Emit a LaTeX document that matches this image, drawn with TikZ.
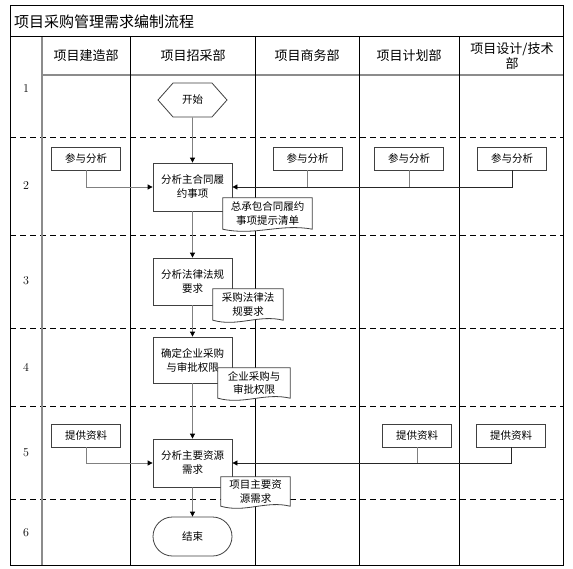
\documentclass[tikz,border=0pt]{standalone}
\usepackage{fontspec}
\newfontfamily\cjk{Noto Sans CJK SC}
\usetikzlibrary{shapes.misc,shapes.symbols,arrows.meta,calc}
\pgfdeclarelayer{lanes}
\pgfdeclarelayer{docfill}
\pgfdeclarelayer{doctop}
\pgfsetlayers{lanes,main,docfill,doctop}
\tikzset{
  frameline/.style={draw=black, line width=0.8pt},
  grayline/.style={draw=black!45, line width=1.8pt},
  rowsep/.style={draw=black, line width=0.7pt, dash pattern=on 6pt off 4pt},
  hdr/.style={font=\cjk\fontsize{13}{15}\selectfont, align=center, inner sep=0pt},
  rownum/.style={font=\fontsize{12}{14}\selectfont, inner sep=0pt},
  procbox/.style={draw=black!75, line width=0.8pt, fill=white, minimum width=79pt, minimum height=48pt, inner sep=0pt, align=center, font=\cjk\fontsize{10.5}{14}\selectfont},
  sidebox/.style={draw=black!75, line width=0.8pt, fill=white, minimum width=69pt, minimum height=23pt, inner sep=0pt, font=\cjk\fontsize{10.5}{13}\selectfont},
  doctext/.style={inner sep=0pt, align=center, font=\cjk\fontsize{10.5}{13.5}\selectfont},
  docline/.style={draw=black!75, line width=0.8pt, fill=white},
  conn/.style={draw=black!50, line width=0.8pt, -{Triangle[length=5pt,width=5pt,black]}},
  connk/.style={draw=black!85, line width=0.8pt, -{Triangle[length=5pt,width=5pt,black]}},
  plain/.style={draw=black!50, line width=0.8pt},
  plaink/.style={draw=black!85, line width=0.8pt},
}
\newcommand\docpath[1]{%
  \draw[docline] (#1.north west) -- (#1.north east) -- (#1.south east)
    .. controls ($(#1.south west)!0.65!(#1.south east)+(0,-6)$) and ($(#1.south west)!0.35!(#1.south east)+(0,7)$) .. (#1.south west) -- cycle;}
\begin{document}
\begin{tikzpicture}[x=1pt,y=-1pt]
\useasboundingbox (0,0) rectangle (573,568);
\begin{pgfonlayer}{lanes}
\fill[white] (0,0) rectangle (573,568);
% row separators
\foreach \yy in {137,235,328,406,499}
  \draw[rowsep] (10,\yy) -- (563,\yy);
% header bottom and first column line
\draw[grayline] (42,75) -- (563,75);
\draw[grayline] (42,36) -- (42,565);
% lane lines
\foreach \xx in {130,255,359,459}
  \draw[frameline] (\xx,36) -- (\xx,565);
% frame
\draw[frameline] (10,5) rectangle (563,565);
\draw[frameline] (10,36) -- (563,36);
\end{pgfonlayer}

% title and headers
\node[anchor=west, inner sep=0pt, font=\cjk\fontsize{15}{17}\selectfont] (title) at (14,22) {项目采购管理需求编制流程};
\node[hdr] (h1) at (86,56) {项目建造部};
\node[hdr] (h2) at (193,56) {项目招采部};
\node[hdr] (h3) at (307,56) {项目商务部};
\node[hdr] (h4) at (409,56) {项目计划部};
\node[hdr] (h5) at (512,56) {项目设计/技术\\部};

% row numbers
\node[rownum] (r1) at (26,89) {1};
\node[rownum] (r2) at (26,186) {2};
\node[rownum] (r3) at (26,281) {3};
\node[rownum] (r4) at (26,367) {4};
\node[rownum] (r5) at (26,453) {5};
\node[rownum] (r6) at (26,533) {6};

% main flow nodes
\node[signal, signal to=east and west, signal pointer angle=97, draw=black!75, line width=0.8pt, fill=white, minimum width=69pt, minimum height=34pt, inner sep=0pt, font=\cjk\fontsize{10.5}{13}\selectfont] (start) at (192.5,100) {开始};
\node[procbox] (a1) at (192.5,187) {分析主合同履\\约事项};
\node[procbox, minimum height=47pt] (a2) at (192.5,281.5) {分析法律法规\\要求};
\node[procbox, minimum height=46pt] (a3) at (192.5,360) {确定企业采购\\与审批权限};
\node[procbox, minimum height=48pt] (a4) at (192.5,463) {分析主要资源\\需求};
\node[rounded rectangle, draw=black!75, line width=0.8pt, fill=white, minimum width=79pt, minimum height=39pt, inner sep=0pt, font=\cjk\fontsize{10.5}{13}\selectfont] (stop) at (192.5,536.5) {结束};

% side boxes row 2
\node[sidebox] (p1) at (86,158.5) {参与分析};
\node[sidebox] (p2) at (307.5,158.5) {参与分析};
\node[sidebox] (p3) at (409,158.5) {参与分析};
\node[sidebox] (p4) at (512,158.5) {参与分析};
% side boxes row 5
\node[sidebox] (q1) at (86,435.5) {提供资料};
\node[sidebox] (q2) at (417,435.5) {提供资料};
\node[sidebox] (q3) at (511,435.5) {提供资料};

% connectors
\draw[conn] (start) -- (a1);
\draw[conn] (a1) -- (a2);
\draw[conn] (a2) -- (a3);
\draw[conn] (a3) -- (a4);
\draw[conn] (a4) -- (stop);
\draw[conn] (p1.south) |- (a1.west);
\draw[plain] (p3.south) -- (p3.south |- a1.east);
\draw[plain] (p2.south) -- (p2.south |- a1.east);
\draw[connk] (p4.south) |- (a1.east);
\draw[conn] (q1.south) |- (a4.west);
\draw[plain] (q2.south) -- (q2.south |- a4.east);
\draw[connk] (q3.south) |- (a4.east);

% documents
\begin{pgfonlayer}{doctop}
\node[doctext, minimum width=89pt, minimum height=31pt] (d1) at (267.5,213.5) {总承包合同履约\\事项提示清单};
\node[doctext, minimum width=70pt, minimum height=31pt] (d2) at (248,304.5) {采购法律法\\规要求};
\node[doctext, minimum width=72pt, minimum height=30pt] (d3) at (254,383) {企业采购与\\审批权限};
\node[doctext, minimum width=69pt, minimum height=29pt] (d4) at (255.5,491.5) {项目主要资\\源需求};
\end{pgfonlayer}
\begin{pgfonlayer}{docfill}
\docpath{d1}
\docpath{d2}
\docpath{d3}
\docpath{d4}
\end{pgfonlayer}
\end{tikzpicture}
\end{document}
